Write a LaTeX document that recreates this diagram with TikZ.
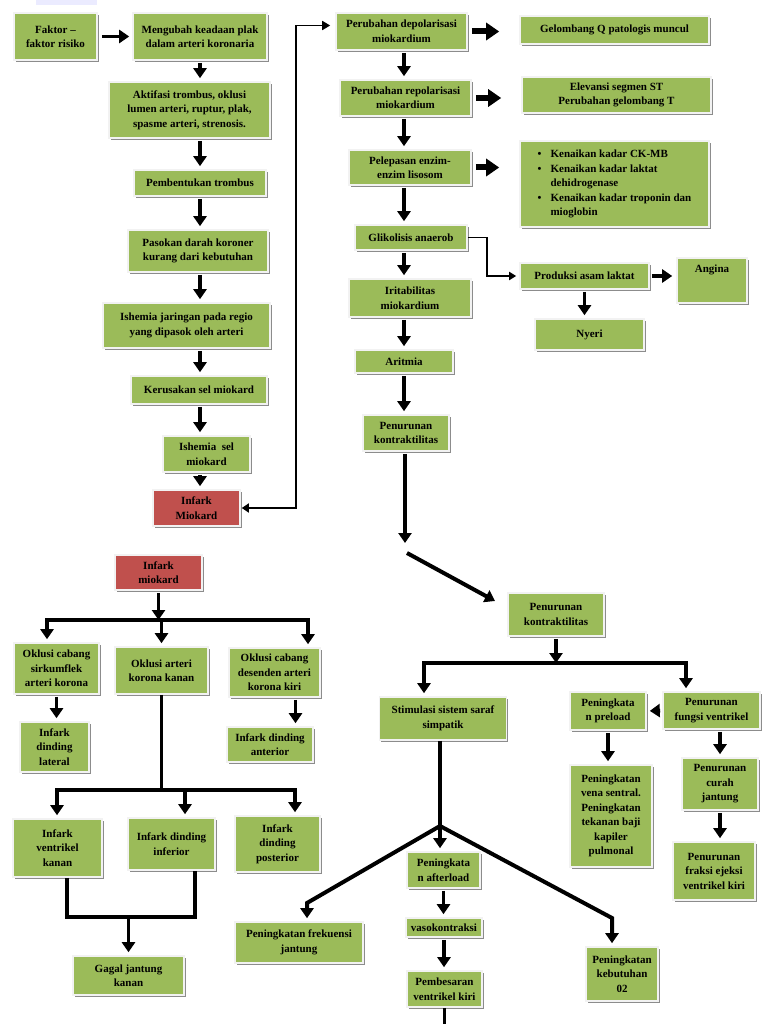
\documentclass[tikz,border=0pt]{standalone}
\usepackage{fontspec}
\setmainfont{Liberation Serif}
\usetikzlibrary{arrows.meta,shadows}
\definecolor{boxgreen}{HTML}{9BBB59}
\definecolor{boxred}{HTML}{C0504D}
\definecolor{boxedge}{HTML}{F2F2F2}
\newcommand\flowfont{\fontsize{11}{14.5}\selectfont\bfseries}
\tikzset{
  box/.style={draw=boxedge,line width=1.6pt,fill=boxgreen,align=center,
    font=\flowfont,inner sep=2pt,
    drop shadow={shadow xshift=1.6pt,shadow yshift=-1.6pt,fill=black!45,opacity=1}},
  redbox/.style={box,fill=boxred},
  sz/.style 2 args={minimum width=#1pt,minimum height=#2pt},
  flow/.style={line width=3.4pt,-{Triangle[length=10pt,width=13pt]},
    shorten >=3pt,shorten <=2pt},
  fork/.style={line width=3.4pt,
    {Triangle[length=10pt,width=13pt]}-{Triangle[length=10pt,width=13pt]},
    shorten >=3pt,shorten <=3pt},
  bigflow/.style={line width=6pt,-{Triangle[length=13pt,width=17pt]},
    shorten <=4pt,shorten >=20pt},
  bar/.style={line width=3.4pt},
  thinflow/.style={line width=1.8pt,-{Triangle[length=7pt,width=8pt]}},
}
\begin{document}
\begin{tikzpicture}[x=1pt,y=-1pt]
  \path[fill=white,use as bounding box] (0,0) rectangle (768,1024);
  \fill[blue!8] (36,0) rectangle (97,5);
  % left column
  \node[box,sz={83}{47}] (faktor) at (55.5,36.5) {Faktor --\\faktor risiko};
  \node[box,sz={134}{47}] (plak) at (200,36.5) {Mengubah keadaan plak\\dalam arteri koronaria};
  \node[box,sz={161}{56}] (aktif) at (189.5,110) {Aktifasi trombus, oklusi\\lumen arteri, ruptur, plak,\\spasme arteri, strenosis.};
  \node[box,sz={132}{26}] (trombus) at (200,183) {Pembentukan trombus};
  \node[box,sz={140}{42}] (pasokan) at (198,251) {Pasokan darah koroner\\kurang dari kebutuhan};
  \node[box,sz={167}{45}] (ishjar) at (186.5,325.5) {Ishemia jaringan pada regio\\yang dipasok oleh arteri};
  \node[box,sz={136}{28}] (rusak) at (199,390) {Kerusakan sel miokard};
  \node[box,sz={87}{36}] (ishsel) at (206.5,454) {Ishemia\ \ sel\\miokard};
  \node[redbox,sz={87}{36}] (infark) at (196.5,508) {Infark\\Miokard};
  \coordinate (lx) at (200,0);
  \draw[flow,shorten <=4pt] (faktor.east) -- (plak.west);
  \foreach \a/\b in {plak/aktif,aktif/trombus,trombus/pasokan,pasokan/ishjar,
      ishjar/rusak,rusak/ishsel,ishsel/infark}
    \draw[flow] (\a.south -| lx) -- (\b.north -| lx);
  % right column
  \node[box,sz={131}{37}] (depol) at (401.5,31.5) {Perubahan depolarisasi\\miokardium};
  \node[box,sz={189}{28}] (gelQ) at (614.5,30) {Gelombang Q patologis muncul};
  \node[box,sz={131}{36}] (repol) at (405.5,98) {Perubahan repolarisasi\\miokardium};
  \node[box,sz={189}{36}] (elev) at (616.5,95) {Elevansi segmen ST\\Perubahan gelombang T};
  \node[box,sz={122}{35}] (enzim) at (410,167.5) {Pelepasan enzim-\\enzim lisosom};
  \node[box,sz={189}{86}] (kadar) at (614.5,184) {%
    \begin{tabular}{@{}c@{\hspace{9pt}}l@{}}
      \textbullet & Kenaikan kadar CK-MB\\
      \textbullet & Kenaikan kadar laktat\\
                  & dehidrogenase\\
      \textbullet & Kenaikan kadar troponin dan\\
                  & mioglobin
    \end{tabular}};
  \node[box,sz={112}{25}] (glik) at (411,237.5) {Glikolisis anaerob};
  \node[box,sz={122}{38}] (irit) at (410,298) {Iritabilitas\\miokardium};
  \node[box,sz={98}{23}] (arit) at (404,361.5) {Aritmia};
  \node[box,sz={86}{36}] (kontr1) at (406,433) {Penurunan\\kontraktilitas};
  \node[box,sz={129}{26}] (asam) at (584.5,276) {Produksi asam laktat};
  \node[box,sz={70}{45},text depth=24pt] (angina) at (712,280.5) {Angina};
  \node[box,sz={109}{31}] (nyeri) at (589.5,334.5) {Nyeri};
  \coordinate (riser) at (296,0);
  \draw[line width=1.6pt,{Triangle[length=7pt,width=9pt]}-{Triangle[length=8pt,width=9pt]},
    shorten <=1pt,shorten >=5pt]
    (infark.east) -- (infark.east -| riser) |- ([yshift=6pt]depol.west);
  \coordinate (rx) at (404,0);
  \foreach \a/\b in {depol/repol,repol/enzim,enzim/glik,glik/irit,irit/arit,arit/kontr1}
    \draw[flow] (\a.south -| rx) -- (\b.north -| rx);
  \foreach \a/\b in {depol/gelQ,repol/elev,enzim/kadar}
    \draw[bigflow] (\a.east) -- (\a.east -| \b.west);
  \draw[thinflow,shorten >=3pt] (glik.east) -- ++(19,0) |- (asam.west);
  \draw[flow,shorten >=4pt] (asam.east) -- (asam.east -| angina.west);
  \draw[flow] (asam.south) -- (asam.south |- nyeri.north);
  \coordinate (kdrop) at (405,543);
  \draw[flow,shorten >=0pt] (kontr1.south -| kdrop) -- (kdrop);
  \coordinate (kd1) at (407,553);
  \coordinate (kd2) at (495,601);
  \draw[flow,line width=4pt,shorten >=0pt,shorten <=0pt] (kd1) -- (kd2);
  % lower left
  \node[redbox,sz={87}{35}] (infark2) at (158.5,572.5) {Infark\\miokard};
  \node[box,sz={85}{51}] (okl1) at (56.5,668.5) {Oklusi cabang\\sirkumflek\\arteri korona};
  \node[box,sz={93}{47}] (okl2) at (161.5,670.5) {Oklusi arteri\\korona kanan};
  \node[box,sz={91}{49}] (okl3) at (274.5,672.5) {Oklusi cabang\\desenden arteri\\korona kiri};
  \node[box,sz={69}{50}] (lateral) at (54.5,747) {Infark\\dinding\\lateral};
  \node[box,sz={86}{35}] (anterior) at (270,744.5) {Infark dinding\\anterior};
  \node[box,sz={89}{58}] (vkanan) at (57.5,848) {Infark\\ventrikel\\kanan};
  \node[box,sz={87}{52}] (inferior) at (171.5,844) {Infark dinding\\inferior};
  \node[box,sz={85}{56}] (posterior) at (277.5,844) {Infark\\dinding\\posterior};
  \node[box,sz={111}{39}] (gagal) at (128.5,975.5) {Gagal jantung\\kanan};
  \coordinate (bl) at (47,620);
  \coordinate (br) at (308,620);
  \draw[flow,shorten >=0pt] (infark2.south) -- (infark2.south |- bl);
  \draw[fork] (bl |- okl1.north) -- (bl) -- (br) -- (br |- okl3.north);
  \draw[flow,shorten <=0pt] (okl2 |- bl) -- (okl2.north);
  \draw[flow] (okl1.south) -- (okl1.south |- lateral.north);
  \draw[flow] ([xshift=21pt]okl3.south) -- ([xshift=21pt]okl3.south |- anterior.north);
  \coordinate (cl) at (57,790);
  \coordinate (cm) at (185,790);
  \coordinate (cr) at (295,790);
  \draw[bar] (okl2.south) -- (okl2.south |- cl);
  \draw[fork] (cl |- vkanan.north) -- (cl) -- (cr) -- (cr |- posterior.north);
  \draw[flow,shorten <=0pt] (cm) -- (cm |- inferior.north);
  \coordinate (jl) at (67,917);
  \coordinate (jr) at (195,917);
  \draw[bar] (jl |- vkanan.south) -- (jl) -- (jr) -- (jr |- inferior.south);
  \draw[flow,shorten <=0pt] (gagal |- jl) -- (gagal.north);
  % lower right
  \node[box,sz={96}{43}] (kontr2) at (556,614.5) {Penurunan\\kontraktilitas};
  \node[box,sz={127}{43}] (stim) at (443,718.5) {Stimulasi sistem saraf\\simpatik};
  \node[box,sz={76}{38}] (preload) at (608,711) {Peningkata\\n preload};
  \node[box,sz={97}{37}] (fungsi) at (711.5,710.5) {Penurunan\\fungsi ventrikel};
  \node[box,sz={82}{102}] (vena) at (611,816) {Peningkatan\\vena sentral.\\Peningkatan\\tekanan baji\\kapiler\\pulmonal};
  \node[box,sz={76}{52}] (curah) at (720,784) {Penurunan\\curah\\jantung};
  \node[box,sz={82}{58}] (fraksi) at (714,871) {Penurunan\\fraksi ejeksi\\ventrikel kiri};
  \node[box,sz={73}{36}] (after) at (443.5,870) {Peningkata\\n afterload};
  \node[box,sz={128}{41}] (frek) at (299,942.5) {Peningkatan frekuensi\\jantung};
  \node[box,sz={76}{19}] (vaso) at (444,927.5) {vasokontraksi};
  \node[box,sz={72}{54}] (kebut) at (622,974) {Peningkatan\\kebutuhan\\02};
  \node[box,sz={75}{36}] (besar) at (444.5,989) {Pembesaran\\ventrikel kiri};
  \coordinate (dl) at (424,663);
  \coordinate (dr) at (686,663);
  \draw[flow,shorten >=0pt] (kontr2.south) -- (kontr2.south |- dl);
  \draw[fork] (dl |- stim.north) -- (dl) -- (dr) -- (dr |- fungsi.north);
  \draw[flow] (fungsi.west) -- (preload.east);
  \draw[flow] (preload.south) -- (preload.south |- vena.north);
  \draw[flow] (curah |- fungsi.south) -- (curah.north);
  \draw[flow] (curah.south) -- (curah.south |- fraksi.north);
  \coordinate (sj) at (440,826);
  \coordinate (sl) at (307,903);
  \coordinate (sr) at (612,918);
  \draw[bar] (stim.south -| sj) -- (sj);
  \draw[flow,shorten <=0pt] (sj) -- (sj |- after.north);
  \draw[flow,line width=4pt,shorten <=0pt] (sj) -- (sl) -- (sl |- frek.north);
  \draw[flow,line width=4pt,shorten <=0pt] (sj) -- (sr) -- (sr |- kebut.north);
  \draw[flow] (after.south) -- (after.south |- vaso.north);
  \draw[flow] (vaso.south) -- (vaso.south |- besar.north);
  \draw[bar] (besar.south) -- ++(0,20);
\end{tikzpicture}
\end{document}
